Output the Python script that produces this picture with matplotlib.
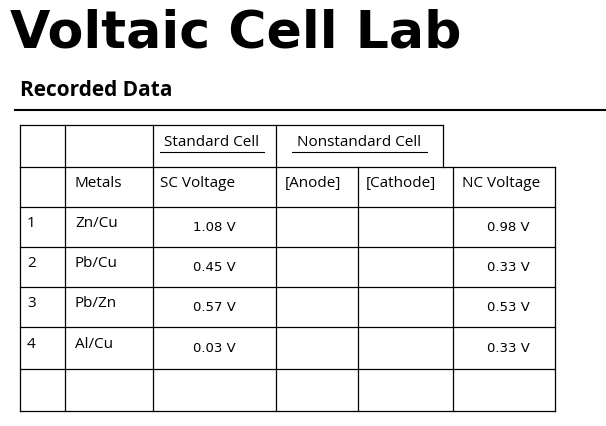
import matplotlib.pyplot as plt

row_ids = ["1", "2", "3", "4"]
metals = ["Zn/Cu", "Pb/Cu", "Pb/Zn", "Al/Cu"]
sc_voltage = ["1.08 V", "0.45 V", "0.57 V", "0.03 V"]
nc_voltage = ["0.98 V", "0.33 V", "0.53 V", "0.33 V"]
headers = ["", "Metals", "SC Voltage", "[Anode]", "[Cathode]", "NC Voltage"]

W, H = 606, 427
fig = plt.figure(figsize=(W/100, H/100), dpi=100)
ax = fig.add_axes([0, 0, 1, 1])
ax.set_xlim(0, W); ax.set_ylim(H, 0); ax.axis('off')

fam = ['Open Sans', 'DejaVu Sans']
ax.text(10, 34, "Voltaic Cell Lab", fontsize=37.5, fontweight='heavy', va='center', family='DejaVu Sans')
ax.text(20, 90, "Recorded Data", fontsize=15, fontweight='bold', va='center', family=fam)
ax.plot([15, 606], [111, 111], color='black', lw=1.5)

xs = [20, 65, 153, 276, 358, 453, 555]
ys = [126, 168, 208, 248, 288, 328, 370, 412]
lk = dict(color='black', lw=0.9)
ax.plot([20, 443], [126, 126], **lk)
ax.plot([443, 443], [126, 168], **lk)
for x in xs[:4]:
    ax.plot([x, x], [126, 168], **lk)
for y in ys[1:]:
    ax.plot([20, 555], [y, y], **lk)
for x in xs:
    ax.plot([x, x], [168, 412], **lk)

ax.text(212, 143, "Standard Cell", fontsize=11, va='center', ha='center', family=fam)
ax.text(359, 143, "Nonstandard Cell", fontsize=11, va='center', ha='center', family=fam)
ax.plot([160, 264], [153, 153], color='black', lw=0.8)
ax.plot([292, 427], [153, 153], color='black', lw=0.8)

hx = [27, 75, 160, 285, 366, 462]
for x, h in zip(hx, headers):
    ax.text(x, 184, h, fontsize=11, va='center', family=fam)

for i in range(len(metals)):
    yc = (ys[i+2] + ys[i+3]) / 2
    ax.text(27, yc - 4, row_ids[i], fontsize=11, va='center', family=fam)
    ax.text(75, yc - 4, metals[i], fontsize=11, va='center', family=fam)
    ax.text(214, yc, sc_voltage[i], fontsize=9.5, va='center', ha='center', family='DejaVu Sans')
    ax.text(508, yc, nc_voltage[i], fontsize=9.5, va='center', ha='center', family='DejaVu Sans')

fig.savefig("out.png", dpi=100)
